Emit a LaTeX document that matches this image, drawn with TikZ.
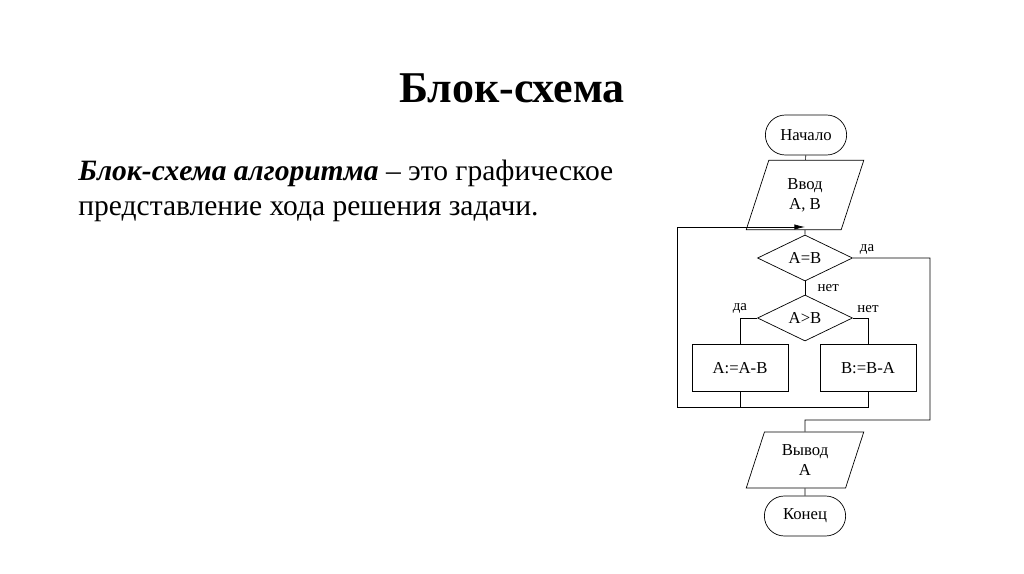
\documentclass[tikz,border=0pt]{standalone}
\usepackage{fontspec}
\setmainfont{Liberation Serif}
\usetikzlibrary{shapes.geometric,shapes.misc,arrows.meta}
\tikzset{
	term/.style={draw, rounded rectangle, minimum width=93*0.02cm, minimum height=40*0.02cm, font=\fontsize{9.5}{11}\selectfont},
	io/.style={draw, trapezium, trapezium left angle=72, trapezium right angle=108, minimum width=118*0.02cm, minimum height=46*0.02cm, inner sep=1pt, align=center, font=\fontsize{9.5}{11.5}\selectfont},
	cond/.style={draw, diamond, aspect=2.1, minimum width=95*0.02cm, minimum height=46*0.02cm, inner sep=0pt, font=\fontsize{9.5}{11}\selectfont},
	act/.style={draw, rectangle, minimum width=96*0.02cm, minimum height=47*0.02cm, font=\fontsize{9.5}{11}\selectfont},
	lbl/.style={font=\fontsize{8.5}{9}\selectfont, inner sep=1pt}
}
\begin{document}
\begin{tikzpicture}[x=0.02cm,y=-0.02cm]
	\useasboundingbox (0,0) rectangle (1024,574);
	\node [font=\fontsize{25}{30}\selectfont\bfseries] (title) at (512,88) {Блок-схема};
	\node [anchor=north west, align=left, font=\fontsize{16.8}{19.5}\selectfont, inner sep=0pt] (text) at (78,160)
		{\textbf{\textit{Блок-схема алгоритма}} -- это графическое\\представление хода решения задачи.};
	% flowchart
	\node [term] (start) at (806,135) {Начало};
	\node [io] (inp) at (805,195) {Ввод\\А, В};
	\node [cond] (eq) at (805,258) {А=В};
	\node [cond] (gt) at (805,318) {А>В};
	\node [act] (suba) at (740,368) {А:=А-В};
	\node [act] (subb) at (868,368) {В:=В-А};
	\node [io] (out) at (805,460) {Вывод\\А};
	\node [term] (stop) at (805,516) {Конец};
	\coordinate (join) at (805,227);
	\draw (start) -- (inp);
	\draw (inp.south) -- (eq.north);
	\draw (eq.south) -- (gt.north) node [lbl, pos=0.5, right=6pt] {нет};
	\draw (gt.west) -| (suba.north);
	\draw (gt.east) -| (subb.north);
	\node [lbl, anchor=south] at (740,315) {да};
	\node [lbl, anchor=south] at (868,315) {нет};
	\node [lbl, anchor=south] at (867,256) {да};
	\draw (suba.south) -- (740,407) (subb.south) -- (868,407) -- (677,407) -- (677,227)
		[-{Latex[length=6pt,width=3pt]}] -- (join);
	\draw (eq.east) -- (930,258) -- (930,420) -- (805,420) -- (out.north);
	\draw (out.south) -- (stop);
\end{tikzpicture}
\end{document}
